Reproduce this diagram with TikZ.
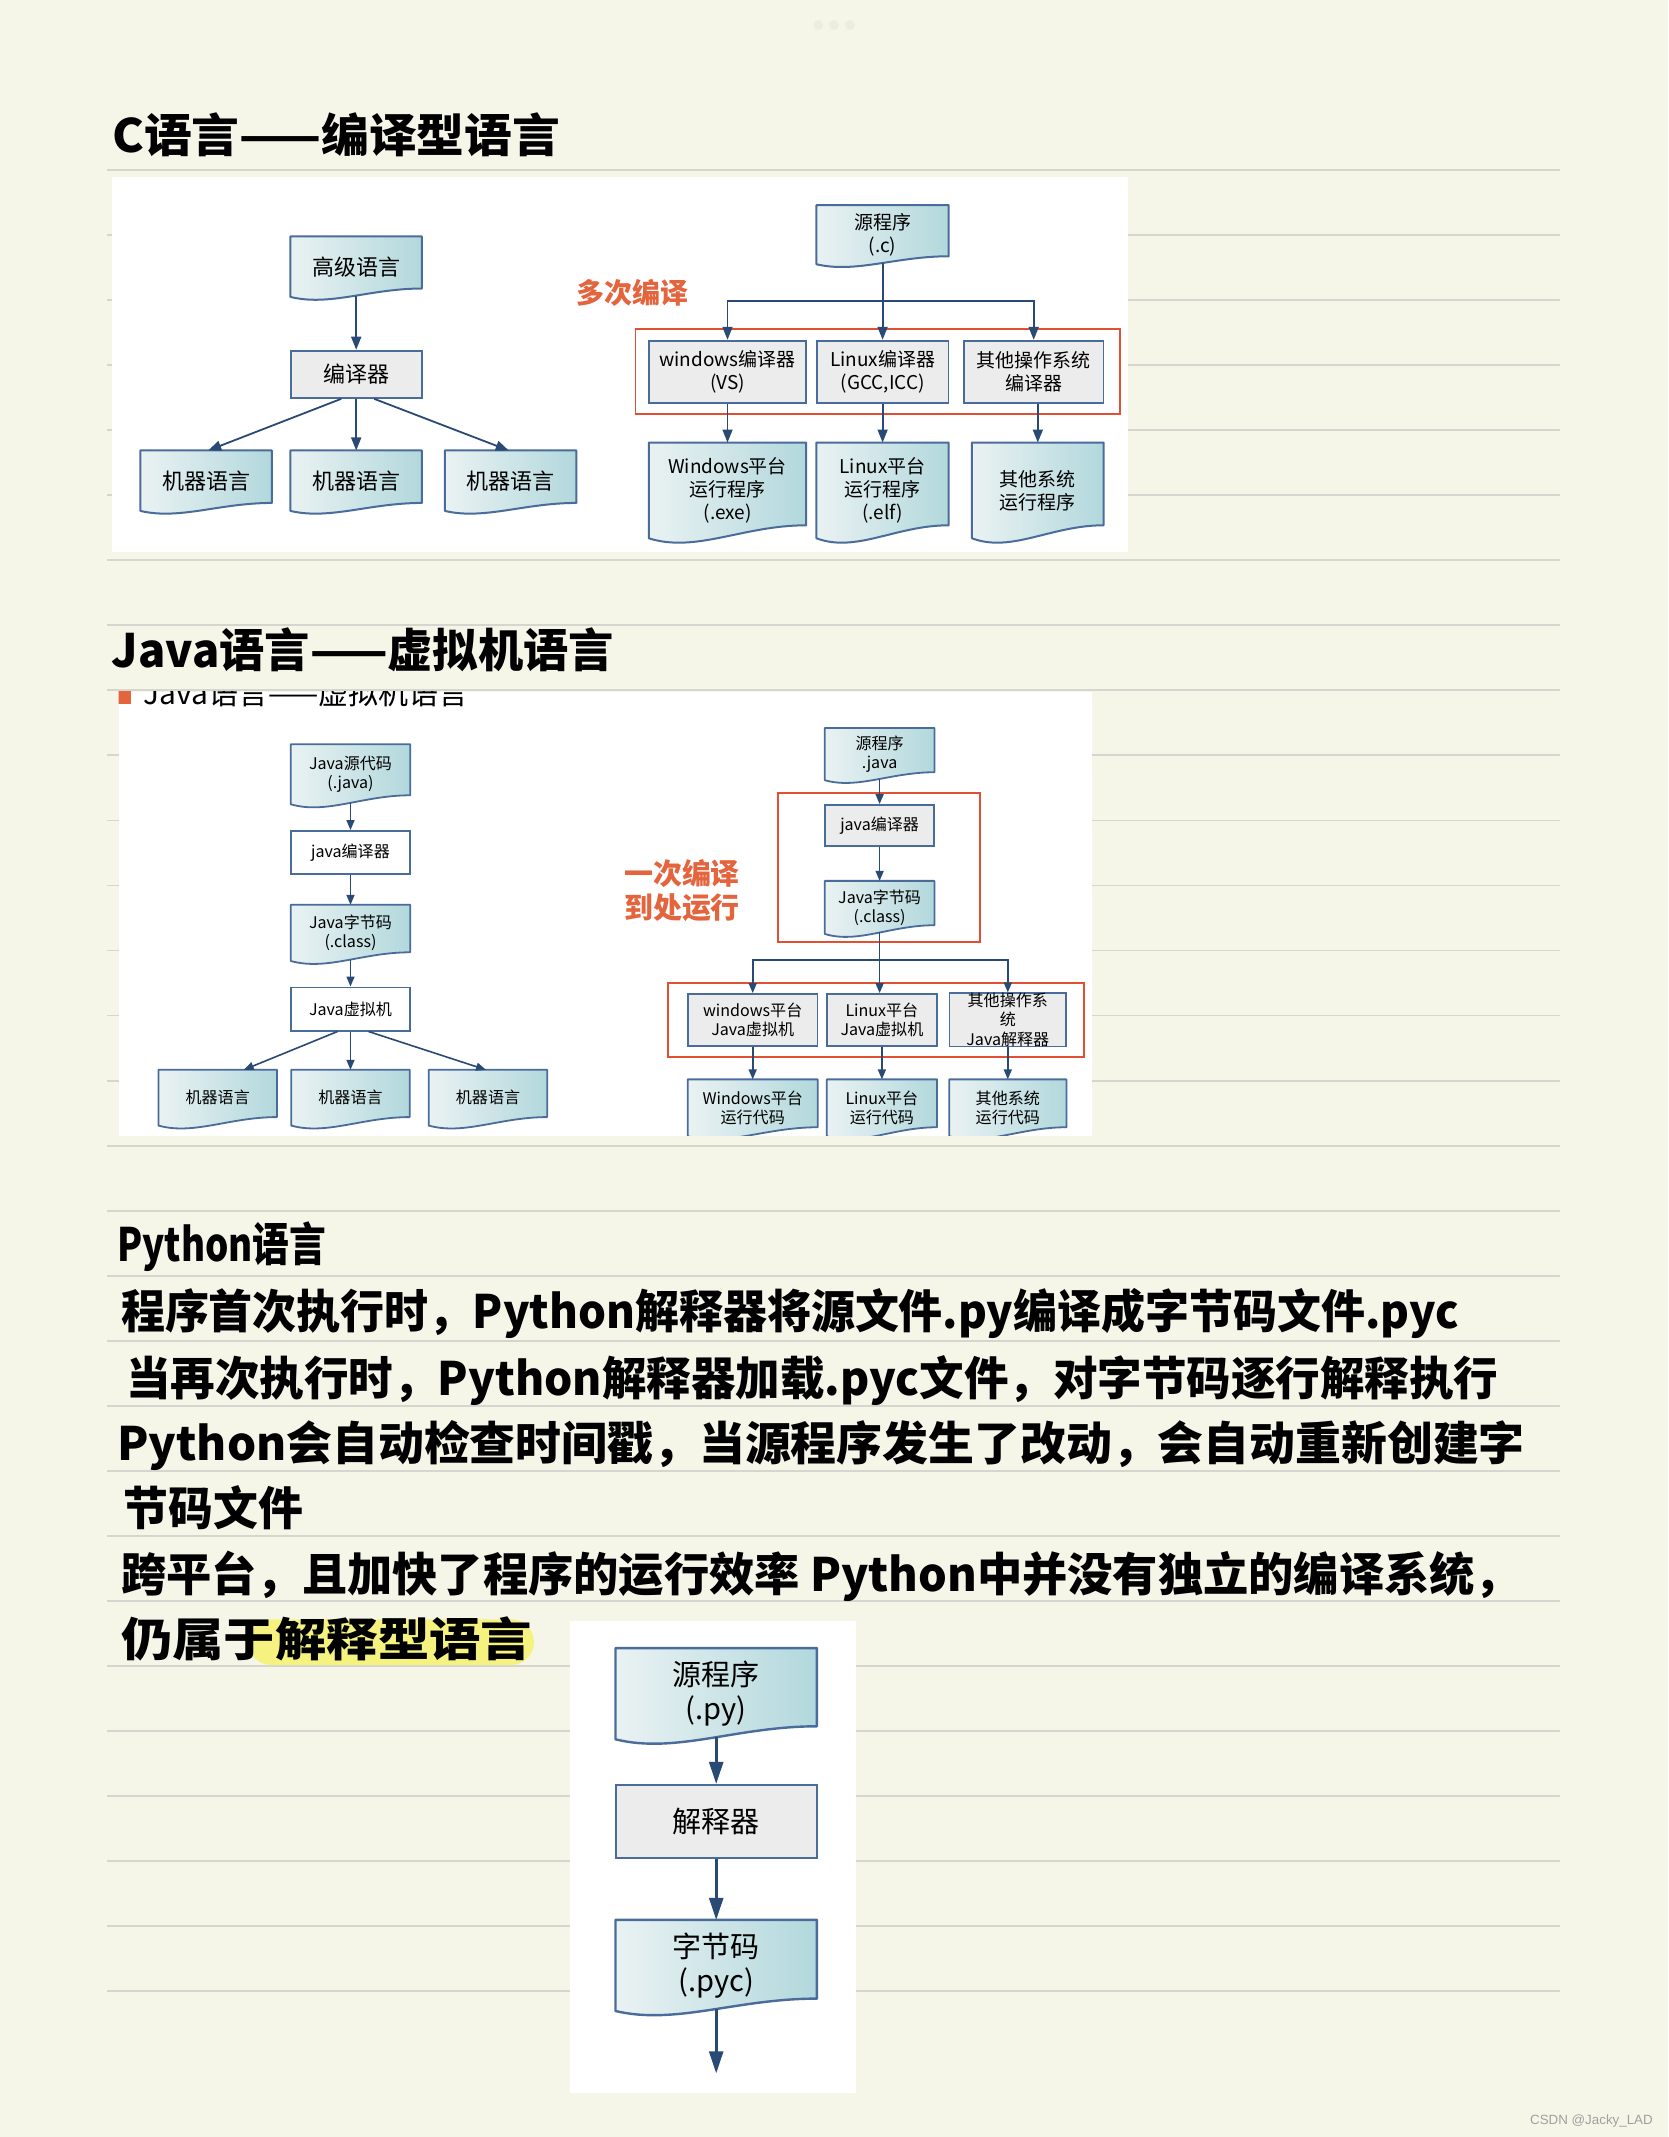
\documentclass[tikz,border=0pt]{standalone}
\usepackage{fontspec}
\usepackage{graphicx}
\setmainfont{Noto Sans CJK SC}
\newfontfamily\handfont{Noto Sans CJK SC}
\newfontfamily\markfont{Liberation Sans}
\usetikzlibrary{arrows.meta,calc,backgrounds}

\newlength\pxu
\setlength\pxu{0.03cm}

\definecolor{paper}{RGB}{245,245,232}
\definecolor{ruleg}{RGB}{214,214,208}
\definecolor{boxblue}{RGB}{74,108,155}
\definecolor{arrowblue}{RGB}{42,74,118}
\definecolor{docL}{RGB}{234,242,243}
\definecolor{docR}{RGB}{178,216,220}
\definecolor{procgray}{RGB}{236,236,236}
\definecolor{framered}{RGB}{226,80,52}
\definecolor{labelorange}{RGB}{228,100,62}
\definecolor{hilite}{RGB}{245,242,128}
\definecolor{markgray}{RGB}{160,160,160}
\definecolor{dotgray}{RGB}{236,236,224}

\tikzset{
  sz/.style 2 args={minimum width=#1\pxu, minimum height=#2\pxu},
  docbox/.style={inner sep=0pt, align=center},
  procbox/.style={draw=boxblue, fill=procgray, line width=1.8\pxu, inner sep=0pt, align=center},
  plainbox/.style={procbox, fill=white},
  docshape/.style={draw=boxblue, line width=1.8\pxu, line join=round, left color=docL, right color=docR},
  cbig/.style={font=\fontsize{18.8pt}{22pt}\selectfont},
  csmall/.style={font=\fontsize{16.2pt}{19.5pt}\selectfont},
  jtxt/.style={font=\fontsize{13.7pt}{16.4pt}\selectfont},
  ptxt/.style={font=\fontsize{24.8pt}{29pt}\selectfont},
  redframe/.style={draw=framered, line width=1.8\pxu},
  hotlabel/.style={text=labelorange, align=center, inner sep=0pt},
  hand/.style={anchor=base west, inner sep=0pt, font=\handfont\bfseries\fontsize{39.3pt}{46pt}\selectfont},
  ruleline/.style={draw=ruleg, line width=1.8\pxu},
  flowc/.style={draw=arrowblue, line width=1.8\pxu, -{Triangle[length=0.39cm, width=0.3cm]}},
  flowj/.style={draw=arrowblue, line width=1.6\pxu, -{Triangle[length=0.3cm, width=0.24cm]}},
  flowp/.style={draw=arrowblue, line width=2.6\pxu, -{Triangle[length=0.66cm, width=0.42cm]}},
}

\begin{document}
\begin{tikzpicture}[x=0.03cm, y=-0.03cm]
  \useasboundingbox (0,0) rectangle (1668,2137);

  % ---- C panel ----
  \node[docbox, cbig, sz={131}{60}] (hll) at (356.2,266.7) {高级语言};
  \node[procbox, cbig, sz={131}{47.3}] (cc) at (356.2,374.3) {编译器};
  \node[docbox, cbig, sz={131}{60}] (m1) at (206.2,480.7) {机器语言};
  \node[docbox, cbig, sz={131}{60}] (m2) at (356.2,480.7) {机器语言};
  \node[docbox, cbig, sz={131}{60}] (m3) at (510.7,480.7) {机器语言};

  \node[docbox, csmall, sz={131.8}{58.7}] (csrc) at (882.6,234.7) {源程序\\(.c)};
  \node[hotlabel, font=\bfseries\fontsize{23.9pt}{28pt}\selectfont] (multi) at (632,293) {多次编译};
  \coordinate (cbar) at (882.6,300.7);
  \node[procbox, csmall, sz={157}{62}] (winc) at (727.5,371.7) {windows编译器\\(VS)};
  \node[procbox, csmall, sz={131.8}{62}] (linc) at (882.6,371.7) {Linux编译器\\(GCC,ICC)};
  \node[procbox, csmall, sz={139.4}{62}] (othc) at (1033.7,371.7) {其他操作系统\\编译器};
  \node[docbox, csmall, sz={157}{95.3}] (wexe) at (727.5,490.4) {Windows平台\\运行程序\\(.exe)};
  \node[docbox, csmall, sz={131.8}{95.3}] (lelf) at (882.6,490.4) {Linux平台\\运行程序\\(.elf)};
  \node[docbox, csmall, sz={131.2}{95.3}] (oexe) at (1037.8,490.4) {其他系统\\运行程序};
  \draw[redframe] (635.5,329.3) rectangle (1119.6,414);

  % ---- Java panel ----
  \node[docbox, jtxt, sz={119}{59.5}] (jsrc) at (350.5,774.3) {Java源代码\\(.java)};
  \node[plainbox, jtxt, sz={119}{43}] (jcomp) at (350.5,852.5) {java编译器};
  \node[docbox, jtxt, sz={119}{55.7}] (jbyte) at (350.5,932.9) {Java字节码\\(.class)};
  \node[plainbox, jtxt, sz={119}{43.2}] (jvm) at (350.5,1009) {Java虚拟机};
  \node[docbox, jtxt, sz={118}{55.3}] (jm1) at (217.7,1097.7) {机器语言};
  \node[docbox, jtxt, sz={118}{55.3}] (jm2) at (350.5,1097.7) {机器语言};
  \node[docbox, jtxt, sz={118}{55.3}] (jm3) at (488,1097.7) {机器语言};

  \node[docbox, jtxt, sz={109.2}{51.8}] (jsrc2) at (879.6,754.1) {源程序\\.java};
  \node[procbox, jtxt, sz={109.2}{40.8}] (jcomp2) at (879.6,825.4) {java编译器};
  \node[docbox, jtxt, sz={109.2}{52.6}] (jbyte2) at (879.6,907.4) {Java字节码\\(.class)};
  \node[hotlabel, font=\bfseries\fontsize{24.7pt}{28.9pt}\selectfont] (once) at (682,891) {一次编译\\到处运行};
  \coordinate (jbar) at (879.6,959.7);
  \node[procbox, jtxt, sz={129.5}{51.8}] (winvm) at (752.7,1019.9) {windows平台\\Java虚拟机};
  \node[procbox, jtxt, sz={109.7}{51.8}] (linvm) at (881.9,1019.9) {Linux平台\\Java虚拟机};
  \node[procbox, jtxt, sz={116.7}{51.8}] (othvm) at (1007.8,1019.9) {其他操作系\\统\\Java解释器};
  \node[docbox, jtxt, sz={129.5}{56.4}] (wcode) at (752.7,1107.8) {Windows平台\\运行代码};
  \node[docbox, jtxt, sz={109.7}{56.4}] (lcode) at (881.9,1107.8) {Linux平台\\运行代码};
  \node[docbox, jtxt, sz={116.7}{56.4}] (ocode) at (1007.8,1107.8) {其他系统\\运行代码};
  \draw[redframe] (778,793) rectangle (980,941.8);
  \draw[redframe] (667.6,983.3) rectangle (1084,1056.6);

  % ---- Python panel ----
  \node[docbox, ptxt, sz={201}{90.7}] (pysrc) at (716.2,1693.7) {源程序\\(.py)};
  \node[procbox, ptxt, sz={201}{72.7}, line width=2.4\pxu] (interp) at (716.2,1821.4) {解释器};
  \node[docbox, ptxt, sz={201}{90.7}] (pyc) at (716.2,1965.4) {字节码\\(.pyc)};
  \coordinate (pyend) at (716.2,2073.3);

  % ---- paper, rules, panels and document shapes ----
  \begin{scope}[on background layer]
    \fill[paper] (0,0) rectangle (1668,2137);
    \foreach \x in {818.3,834,850}
      \fill[dotgray] (\x,25) circle (5);
    \foreach \k in {0,...,28}
      \draw[ruleline] (107,{169.9+65.05*\k}) -- (1560,{169.9+65.05*\k});
    \fill[white] (112,177) rectangle (1128,552);
    \fill[white] (118.5,691.5) rectangle (1091.5,1135.5);
    \fill[white] (570,1621) rectangle (856,2092.5);
    \foreach \n/\a in {hll/8.4, m1/8, m2/8, m3/8, csrc/8, wexe/13, lelf/13, oexe/13}{
      \coordinate (\n-b) at ($(\n.south)+(0,-0.17*\a)$);
      \draw[docshape, line width=2\pxu] (\n.north west) -- (\n.north east) -- ($(\n.south east)+(0,-\a)$)
        .. controls ($(\n.south east)!0.4!(\n.south west)+(0,-\a)$) and ($(\n.south east)!0.7!(\n.south west)+(0,1.15*\a)$) .. (\n.south west) -- cycle;
    }
    \begin{scope}
      \clip (118.5,691.5) rectangle (1091.5,1135.5);
      \foreach \n/\a in {jsrc/9, jbyte/8.7, jm1/8.5, jm2/8.5, jm3/8.5, jsrc2/8, jbyte2/8.7, wcode/9, lcode/9, ocode/9}{
        \coordinate (\n-b) at ($(\n.south)+(0,-0.17*\a)$);
        \draw[docshape] (\n.north west) -- (\n.north east) -- ($(\n.south east)+(0,-\a)$)
          .. controls ($(\n.south east)!0.4!(\n.south west)+(0,-\a)$) and ($(\n.south east)!0.7!(\n.south west)+(0,1.15*\a)$) .. (\n.south west) -- cycle;
      }
    \end{scope}
    \foreach \n/\a in {pysrc/13, pyc/12.4}{
      \coordinate (\n-b) at ($(\n.south)+(0,-0.17*\a)$);
      \draw[docshape, line width=2.4\pxu] (\n.north west) -- (\n.north east) -- ($(\n.south east)+(0,-\a)$)
        .. controls ($(\n.south east)!0.4!(\n.south west)+(0,-\a)$) and ($(\n.south east)!0.7!(\n.south west)+(0,1.15*\a)$) .. (\n.south west) -- cycle;
    }
  \end{scope}

  % ---- connectors ----
  \draw[flowc] (hll-b) -- (cc);
  \draw[flowc] ($(cc.south)+(-15,0)$) -- ($(m1.north)+(2,0)$);
  \draw[flowc] (cc) -- (m2);
  \draw[flowc] ($(cc.south)+(18,0)$) -- ($(m3.north)+(-2,0)$);
  \draw[flowc] (csrc-b) -- (linc);
  \draw[flowc] (cbar) -| (winc);
  \draw[flowc] (cbar) -| (othc);
  \draw[flowc] (winc) -- (wexe);
  \draw[flowc] (linc) -- (lelf);
  \draw[flowc] (oexe.north |- othc.south) -- (oexe);

  \draw[flowj] (jsrc-b) -- (jcomp);
  \draw[flowj] (jcomp) -- (jbyte);
  \draw[flowj] (jbyte-b) -- (jvm);
  \draw[flowj] ($(jvm.south)+(-13,0)$) -- ($(jm1.north)+(26,0)$);
  \draw[flowj] (jvm) -- (jm2);
  \draw[flowj] ($(jvm.south)+(18,0)$) -- ($(jm3.north)+(-2,0)$);
  \draw[flowj] (jsrc2-b) -- (jcomp2);
  \draw[flowj] (jcomp2) -- (jbyte2);
  \draw[flowj] (jbyte2-b) -- (linvm.north -| jbyte2-b);
  \draw[flowj] (jbar) -| (winvm);
  \draw[flowj] (jbar) -| (othvm);
  \draw[flowj] (winvm) -- (wcode);
  \draw[flowj] (linvm) -- (lcode);
  \draw[flowj] (othvm) -- (ocode);

  \draw[flowp] (pysrc-b) -- (interp);
  \draw[flowp] (interp) -- (pyc);
  \draw[flowp] (pyc-b) -- (pyend);

  % ---- cut slide title at top of the java picture ----
  \begin{scope}
    \clip (118.5,691.5) rectangle (1091.5,1135.5);
    \fill[labelorange] (118,686) rectangle (131,704);
    \node[anchor=base west, inner sep=0pt, font=\fontsize{25.6pt}{30pt}\selectfont] (jcut) at (143,704) {Java语言——虚拟机语言};
  \end{scope}

  % ---- handwritten notes ----
  \node[hand] (ctitle) at (112,153) {\resizebox{448\pxu}{\height}{C语言——编译型语言}};
  \node[hand] (jtitle) at (111.5,667) {\resizebox{502\pxu}{\height}{Java语言——虚拟机语言}};
  \node[hand] (pytitle) at (117,1261) {\resizebox{209\pxu}{\height}{Python语言}};
  \node[hand] (note1) at (120.8,1328) {\resizebox{1337.7\pxu}{\height}{程序首次执行时，Python解释器将源文件.py编译成字节码文件.pyc}};
  \node[hand] (note2) at (126,1395) {\resizebox{1372\pxu}{\height}{当再次执行时，Python解释器加载.pyc文件，对字节码逐行解释执行}};
  \node[hand] (note3) at (117,1460) {\resizebox{1407.5\pxu}{\height}{Python会自动检查时间戳，当源程序发生了改动，会自动重新创建字}};
  \node[hand] (note4) at (123.6,1525) {\resizebox{179.4\pxu}{\height}{节码文件}};
  \node[hand] (note5) at (120.8,1591) {\resizebox{1399\pxu}{\height}{跨平台，且加快了程序的运行效率 Python中并没有独立的编译系统，}};
  \fill[hilite, rounded corners=23\pxu] (248.3,1619.3) rectangle (534,1665);
  \node[hand] (note6) at (121,1656) {\resizebox{411\pxu}{\height}{仍属于解释型语言}};

  \node[anchor=base east, inner sep=0pt, text=markgray, font=\markfont\fontsize{11.4pt}{13pt}\selectfont] (mark) at (1653,2124) {CSDN @Jacky\_LAD};
\end{tikzpicture}
\end{document}
